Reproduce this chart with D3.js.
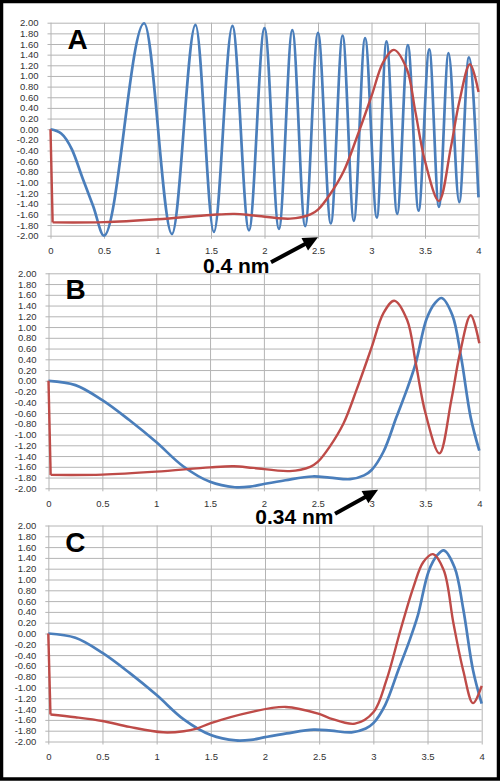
<!DOCTYPE html>
<html>
<head>
<meta charset="utf-8">
<script src="https://cdn.jsdelivr.net/npm/d3@7"></script>
<style>
  html, body { margin: 0; padding: 0; background: #fff; }
  svg { display: block; }
</style>
</head>
<body>
<svg id="chart" width="500" height="781"></svg>
<script>
// ---- Data ----
const xTickLabels = ['0', '0.5', '1', '1.5', '2', '2.5', '3', '3.5', '4'];
const yTickLabels = ['2.00', '1.80', '1.60', '1.40', '1.20', '1.00', '0.80', '0.60', '0.40', '0.20',
                     '0.00', '-0.20', '-0.40', '-0.60', '-0.80', '-1.00', '-1.20', '-1.40', '-1.60', '-1.80', '-2.00'];

// panel A, blue: fast oscillation (start, then peaks / troughs)
const blueA = [
    [0, 0], [0.1, -0.08], [0.2, -0.38], [0.3, -0.92], [0.4, -1.45], [0.5, -2.0],
    [0.875, 1.99], [1.135, -1.97], [1.355, 1.96], [1.527, -1.93], [1.70, 1.94],
    [1.855, -1.90], [2.0, 1.90], [2.135, -1.87], [2.26, 1.86], [2.38, -1.82],
    [2.50, 1.81], [2.62, -1.77], [2.73, 1.76], [2.835, -1.72], [2.94, 1.71],
    [3.05, -1.66], [3.14, 1.65], [3.24, -1.59], [3.34, 1.58], [3.44, -1.53],
    [3.54, 1.50], [3.63, -1.46], [3.72, 1.43], [3.82, -1.37], [3.91, 1.35], [4.0, -1.28]
];

// red curve, same in panels A and B (first two points: the vertical drop)
const redAB = [
    [0, 0], [0.02, -1.75], [0.5, -1.745], [1.0, -1.69], [1.5, -1.61], [1.72, -1.59],
    [1.9, -1.62], [2.24, -1.68], [2.43, -1.60], [2.5, -1.51], [2.61, -1.23], [2.74, -0.79],
    [2.86, -0.17], [3.0, 0.62], [3.11, 1.26], [3.21, 1.49], [3.33, 1.13], [3.41, 0.33],
    [3.5, -0.6], [3.63, -1.35], [3.74, -0.36], [3.82, 0.51], [3.92, 1.22], [4.0, 0.70]
];

// blue curve, same in panels B and C
const blueBC = [
    [0, 0], [0.25, -0.08], [0.5, -0.36], [0.75, -0.73], [1.0, -1.14], [1.25, -1.59],
    [1.5, -1.88], [1.73, -1.98], [1.87, -1.97], [2.0, -1.92], [2.2, -1.85], [2.45, -1.78],
    [2.61, -1.80], [2.80, -1.83], [2.93, -1.76], [3.0, -1.66], [3.11, -1.32], [3.23, -0.68],
    [3.33, -0.15], [3.41, 0.33], [3.51, 1.15], [3.59, 1.45], [3.65, 1.54], [3.75, 1.22],
    [3.83, 0.45], [3.92, -0.68], [4.0, -1.30]
];

// panel C, red (first two points: the vertical drop)
const redC = [
    [0, 0], [0.02, -1.5], [0.25, -1.55], [0.5, -1.62], [0.75, -1.73], [1.06, -1.83],
    [1.25, -1.81], [1.37, -1.76], [1.5, -1.66], [1.86, -1.46], [2.19, -1.36], [2.5, -1.49],
    [2.6, -1.57], [2.83, -1.67], [3.0, -1.46], [3.12, -0.87], [3.25, 0.06], [3.37, 0.86],
    [3.46, 1.32], [3.55, 1.47], [3.65, 1.17], [3.74, 0.18], [3.83, -0.69], [3.92, -1.29], [4.0, -0.97]
];

// arrow annotations: x position the arrow points at
const notes = [
    { panel: 'A', label: '0.4 nm', at: 2.5 },
    { panel: 'B', label: '0.34 nm', at: 3.06 }
];

// ---- Layout ----
const panels = [
    { key: 'A', top: 22.7, bottom: 235.7, left: 50.5, right: 478.5, blue: blueA, red: redAB, blueCurve: 'monotone' },
    { key: 'B', top: 273.3, bottom: 488.3, left: 48.5, right: 479.3, blue: blueBC, red: redAB, blueCurve: 'smooth' },
    { key: 'C', top: 525.5, bottom: 741.5, left: 48.3, right: 481.7, blue: blueBC, red: redC, blueCurve: 'smooth' }
];
const arrowOffset = { A: [-47, 25], B: [-43, 24] };

const BLUE = '#4a7ebb';
const RED = '#be4b48';
const GRID = '#b4b4b4';
const FONT = '"Liberation Sans", Arial, sans-serif';

const svg = d3.select('#chart');
svg.append('rect').attr('width', 500).attr('height', 781).attr('fill', '#fff');

function styleAxis(a) {
    a.select('.domain').remove();
    a.selectAll('line').attr('stroke', GRID);
    a.selectAll('text')
        .attr('fill', '#333')
        .style('font-family', FONT)
        .style('font-size', '9.5px');
}

panels.forEach(p => {
    const g = svg.append('g').attr('class', 'panel-' + p.key);

    const x = d3.scaleLinear().domain([0, 4]).range([p.left, p.right]);
    const y = d3.scaleLinear().domain([-2, 2]).range([p.bottom, p.top]);
    p.x = x;
    p.y = y;

    // horizontal grid + y labels
    g.append('g')
        .attr('transform', `translate(${p.left - 3},0)`)
        .call(d3.axisLeft(y)
            .tickValues(yTickLabels.map(Number))
            .tickSize(-(p.right - p.left + 3))
            .tickPadding(9)
            .tickFormat((d, i) => yTickLabels[i]))
        .call(styleAxis);

    // vertical grid + x labels
    g.append('g')
        .attr('transform', `translate(0,${p.bottom + 3})`)
        .call(d3.axisBottom(x)
            .tickValues(xTickLabels.map(Number))
            .tickSize(-(p.bottom - p.top + 3))
            .tickPadding(9)
            .tickFormat((d, i) => xTickLabels[i]))
        .call(styleAxis);

    const monotone = d3.line().x(d => x(d[0])).y(d => y(d[1])).curve(d3.curveMonotoneX);
    const smooth = d3.line().x(d => x(d[0])).y(d => y(d[1])).curve(d3.curveCatmullRom.alpha(0.5));
    const straight = d3.line().x(d => x(d[0])).y(d => y(d[1]));

    g.append('path')
        .datum(p.blue)
        .attr('fill', 'none')
        .attr('stroke', BLUE)
        .attr('stroke-width', 2.7)
        .attr('stroke-linejoin', 'round')
        .attr('d', p.blueCurve === 'monotone' ? monotone : smooth);

    // red: vertical drop at x=0, then the smooth curve
    g.append('path')
        .datum(p.red.slice(0, 2))
        .attr('fill', 'none')
        .attr('stroke', RED)
        .attr('stroke-width', 2.4)
        .attr('d', straight);

    g.append('path')
        .datum(p.red.slice(1))
        .attr('fill', 'none')
        .attr('stroke', RED)
        .attr('stroke-width', 2.4)
        .attr('stroke-linejoin', 'round')
        .attr('d', smooth);

    // panel letter
    g.append('text')
        .attr('x', p.left + 17)
        .attr('y', p.top + 26)
        .style('font-family', FONT)
        .style('font-weight', 'bold')
        .style('font-size', '28px')
        .attr('fill', '#000')
        .text(p.key);
});

// ---- Arrow annotations ----
notes.forEach(n => {
    const p = panels.find(q => q.key === n.panel);
    const tip = [p.x(n.at), p.bottom + 1.5];
    const off = arrowOffset[n.panel];
    const tail = [tip[0] + off[0], tip[1] + off[1]];

    const len = Math.hypot(tip[0] - tail[0], tip[1] - tail[1]);
    const ux = (tip[0] - tail[0]) / len, uy = (tip[1] - tail[1]) / len;
    const headL = 15, headW = 7;
    const base = [tip[0] - ux * headL, tip[1] - uy * headL];

    svg.append('line')
        .attr('x1', tail[0]).attr('y1', tail[1])
        .attr('x2', base[0] + ux * 2).attr('y2', base[1] + uy * 2)
        .attr('stroke', '#000')
        .attr('stroke-width', 4);

    svg.append('path')
        .attr('d', d3.line()([
            tip,
            [base[0] - uy * headW, base[1] + ux * headW],
            [base[0] + uy * headW, base[1] - ux * headW]
        ]) + 'Z')
        .attr('fill', '#000');

    svg.append('text')
        .attr('x', tail[0] - 1.5)
        .attr('y', tail[1] + 10.5)
        .attr('text-anchor', 'end')
        .style('font-family', FONT)
        .style('font-weight', 'bold')
        .style('font-size', '21px')
        .attr('fill', '#000')
        .text(n.label);
});

// outer frame
svg.append('rect')
    .attr('x', 1.5).attr('y', 1.5)
    .attr('width', 497).attr('height', 777.5)
    .attr('fill', 'none')
    .attr('stroke', '#000')
    .attr('stroke-width', 3.5);
</script>
</body>
</html>
